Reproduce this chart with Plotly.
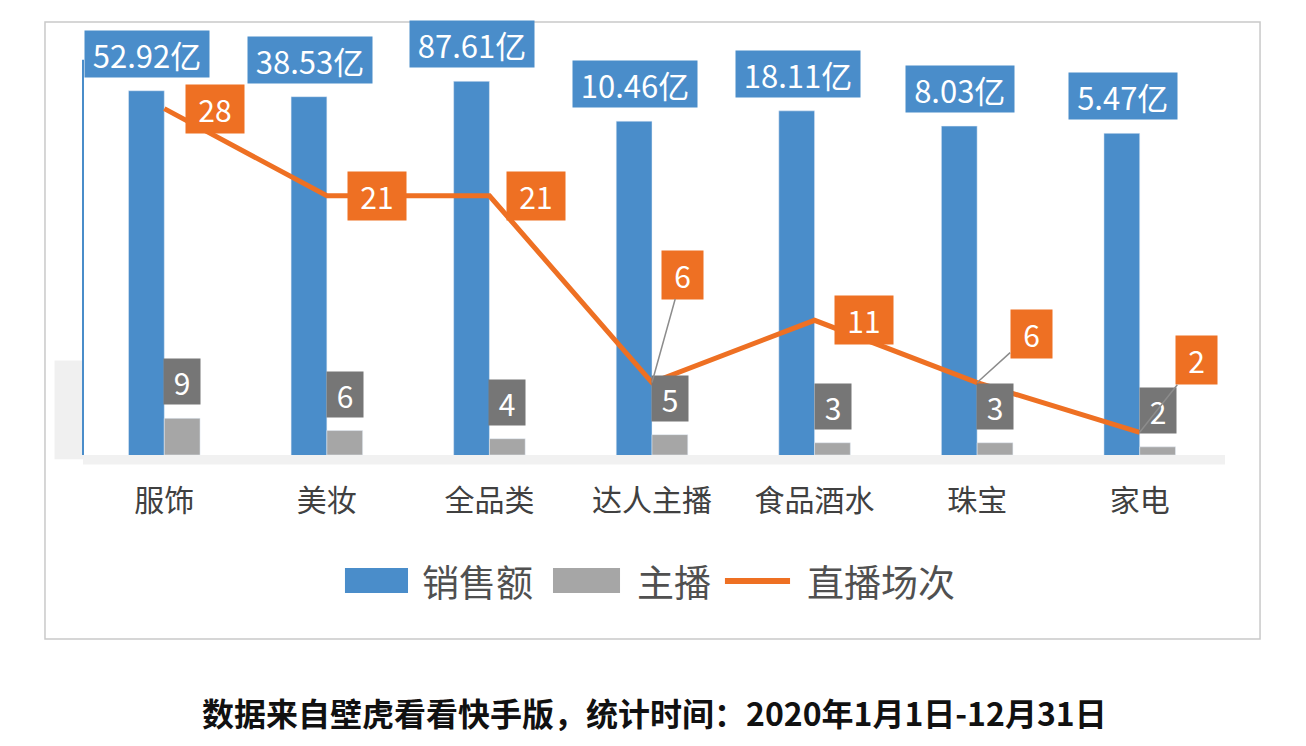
import numpy as np
import plotly.graph_objects as go

# categories and series
categories = ["服饰", "美妆", "全品类", "达人主播", "食品酒水", "珠宝", "家电"]
sales = [52.92, 38.53, 87.61, 10.46, 18.11, 8.03, 5.47]      # 销售额 (亿)
anchors = [9, 6, 4, 5, 3, 3, 2]                               # 主播
sessions = [28, 21, 21, 6, 11, 6, 2]                          # 直播场次

BLUE = "#4a8dca"
GRAY = "#a6a6a6"
DARK_GRAY = "#767676"
ORANGE = "#ee7023"
FONT = "Noto Sans CJK SC"

# label placement for the orange boxes (pixel offsets from the point, leader line or not)
session_label_pos = [(51, 0, False), (50, 0, False), (47, 0, False), (30, -108, True),
                     (49, 0, False), (54, -49, True), (57, -72, True)]

BAR_W = 0.22

fig = go.Figure()
fig.add_trace(go.Bar(name="销售额", x=categories, y=sales, yaxis="y", marker_color=BLUE,
                     width=BAR_W, offset=-BAR_W, hoverinfo="skip"))
fig.add_trace(go.Bar(name="主播", x=categories, y=anchors, yaxis="y2", marker_color=GRAY,
                     width=BAR_W, offset=0, hoverinfo="skip"))
fig.add_trace(go.Scatter(name="直播场次", x=categories, y=sessions, yaxis="y3", mode="lines",
                         line=dict(color=ORANGE, width=5), hoverinfo="skip"))

annotations = []
# blue value boxes above the sales bars
for c, v in zip(categories, sales):
    num = f"{v:.2f}"
    ndig = sum(ch.isdigit() for ch in num)
    annotations.append(dict(x=c, y=np.log10(v), xref="x", yref="y", text=f"{num}亿",
                            showarrow=False, xshift=-17, yshift=13, yanchor="bottom",
                            bgcolor=BLUE, width=16.5 * ndig + 48, height=36, borderpad=5,
                            font=dict(family=FONT, size=31, color="white")))
# dark gray boxes above the anchor bars
for c, v in zip(categories, anchors):
    annotations.append(dict(x=c, y=v, xref="x", yref="y2", text=str(v), showarrow=False,
                            xshift=18, yshift=13, yanchor="bottom", bgcolor=DARK_GRAY,
                            width=26, height=35, borderpad=5,
                            font=dict(family=FONT, size=30, color="white")))
# orange boxes for the line
for c, v, (dx, dy, leader) in zip(categories, sessions, session_label_pos):
    box = dict(x=c, y=v, xref="x", yref="y3", text=str(v), bgcolor=ORANGE,
               width=17 * len(str(v)) + 14, height=38, borderpad=5,
               font=dict(family=FONT, size=30, color="white"))
    if leader:
        box.update(showarrow=True, ax=dx, ay=dy, arrowhead=0, arrowwidth=1.5,
                   arrowcolor="#8c8c8c", standoff=0)
    else:
        box.update(showarrow=False, xshift=dx, yshift=-dy)
    annotations.append(box)

# hand drawn legend, like the original
legend_font = dict(family=FONT, size=37, color="#505050")
annotations += [
    dict(x=0.2961, y=-0.293, xref="paper", yref="paper", text="销售额", showarrow=False,
         xanchor="left", yanchor="middle", font=legend_font),
    dict(x=0.4851, y=-0.293, xref="paper", yref="paper", text="主播", showarrow=False,
         xanchor="left", yanchor="middle", font=legend_font),
    dict(x=0.6344, y=-0.293, xref="paper", yref="paper", text="直播场次", showarrow=False,
         xanchor="left", yanchor="middle", font=legend_font),
    dict(x=0.5018, y=-0.598, xref="paper", yref="paper",
         text="<b>数据来自壁虎看看快手版，统计时间：2020年1月1日-12月31日</b>",
         showarrow=False, xanchor="center", yanchor="middle",
         font=dict(family=FONT, size=32, color="#111111")),
]

shapes = [
    # outer frame
    dict(type="rect", xref="paper", yref="paper", x0=-0.0334, x1=1.0343, y0=-0.4279, y1=1.007,
         line=dict(color="#c9c9c9", width=1.5)),
    # soft shadows under / left of the plot
    dict(type="rect", xref="paper", yref="paper", x0=0, x1=1.0035, y0=-0.022, y1=0,
         fillcolor="rgba(228,228,228,0.5)", line=dict(width=0), layer="below"),
    dict(type="rect", xref="paper", yref="paper", x0=-0.025, x1=0, y0=-0.01, y1=0.22,
         fillcolor="rgba(205,205,205,0.3)", line=dict(width=0), layer="below"),
    dict(type="line", xref="paper", yref="paper", x0=0, x1=0, y0=0, y1=0.919,
         line=dict(color=BLUE, width=2)),
    # legend keys
    dict(type="rect", xref="paper", yref="paper", x0=0.2302, x1=0.2856, y0=-0.3209, y1=-0.2628,
         fillcolor=BLUE, line=dict(width=0)),
    dict(type="rect", xref="paper", yref="paper", x0=0.413, x1=0.4719, y0=-0.3209, y1=-0.2628,
         fillcolor=GRAY, line=dict(width=0)),
    dict(type="line", xref="paper", yref="paper", x0=0.5641, x1=0.6213, y0=-0.293, y1=-0.293,
         line=dict(color=ORANGE, width=6)),
]

fig.update_layout(
    width=1306, height=746,
    margin=dict(l=83, r=85, t=25, b=291),
    paper_bgcolor="white", plot_bgcolor="white",
    barmode="overlay", showlegend=False,
    font=dict(family=FONT),
    xaxis=dict(range=[-0.5, 6.5], showgrid=False, zeroline=False, showline=False, ticks="",
               ticklabelstandoff=25, tickfont=dict(family=FONT, size=30, color="#404040")),
    yaxis=dict(type="log", range=[-6.71, 3.246], visible=False),
    yaxis2=dict(overlaying="y", range=[0, 105.6], visible=False),
    yaxis3=dict(overlaying="y", range=[0.18, 34.72], visible=False),
    annotations=annotations,
    shapes=shapes,
)

fig.write_html("out.html", config={"displayModeBar": False},
               post_script="document.body.style.margin='0';")
